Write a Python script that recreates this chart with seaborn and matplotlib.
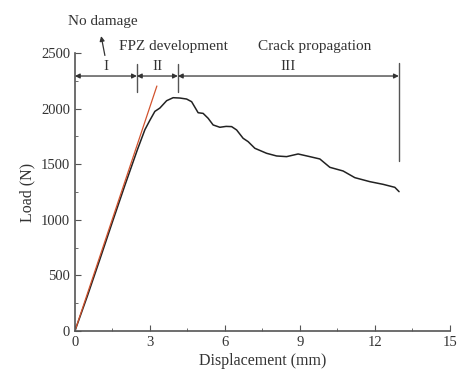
import numpy as np
import pandas as pd
import matplotlib
matplotlib.use('Agg')
import matplotlib.pyplot as plt
from matplotlib.ticker import MultipleLocator
import seaborn as sns

# load-displacement curve
disp = [0, 0.5, 1.0, 1.5, 2.0, 2.5, 2.8, 3.0, 3.2, 3.4, 3.67, 3.93, 4.2, 4.47, 4.67,
        4.93, 5.13, 5.33, 5.53, 5.8, 6.05, 6.27, 6.47, 6.73, 6.93, 7.2, 7.67, 8.07,
        8.47, 8.93, 9.4, 9.8, 10.2, 10.73, 11.2, 11.8, 12.33, 12.8, 12.97]
load = [0, 315, 645, 980, 1310, 1630, 1810, 1895, 1975, 2005, 2071, 2098, 2095, 2086, 2062,
        1963, 1957, 1913, 1853, 1832, 1840, 1838, 1808, 1733, 1703, 1643, 1598, 1574,
        1568, 1592, 1568, 1547, 1472, 1439, 1379, 1343, 1319, 1292, 1253]

# initial stiffness line
fit_x = [0, 3.28]
fit_y = [0, 2203]

# stage boundaries
bounds = [0, 2.48, 4.12, 12.96]
stage_labels = ['I', 'II', 'III']
arrow_y = 2293

sns.set_style('ticks')
plt.rcParams['font.family'] = ['Liberation Serif', 'DejaVu Serif']

fig = plt.figure(figsize=(4.74, 3.92), dpi=100)
ax = fig.add_axes([0.158, 0.1556, 0.791, 0.7092])

curve = pd.DataFrame({'disp': disp, 'load': load})
fit = pd.DataFrame({'x': fit_x, 'y': fit_y})
sns.lineplot(data=curve, x='disp', y='load', color='#222222', lw=1.1, sort=False, ax=ax)
sns.lineplot(data=fit, x='x', y='y', color='#d2532e', lw=0.9, sort=False, ax=ax)

ax.set_xlim(0, 15)
ax.set_ylim(0, 2500)
ax.xaxis.set_major_locator(MultipleLocator(3))
ax.xaxis.set_minor_locator(MultipleLocator(1.5))
ax.yaxis.set_major_locator(MultipleLocator(500))
ax.yaxis.set_minor_locator(MultipleLocator(250))
ax.tick_params(which='both', direction='in', colors='#555555', labelcolor='#333333', labelsize=10.5)
ax.tick_params(which='major', length=4)
ax.tick_params(which='minor', length=2.5)
for s in ['top', 'right']:
    ax.spines[s].set_visible(False)
for s in ['left', 'bottom']:
    ax.spines[s].set_color('#555555')
    ax.spines[s].set_linewidth(1.2)

ax.set_xlabel('Displacement (mm)', fontsize=11.5, color='#333333', labelpad=3)
ax.set_ylabel('Load (N)', fontsize=11.5, color='#333333', labelpad=4)

# stage arrows and dividers
for a, b, lab in zip(bounds[:-1], bounds[1:], stage_labels):
    ax.annotate('', xy=(a, arrow_y), xytext=(b, arrow_y), xycoords='data',
                arrowprops=dict(arrowstyle='<|-|>', color='#333333', lw=0.9,
                                mutation_scale=7, shrinkA=0, shrinkB=0),
                annotation_clip=False)
    ax.text((a + b) / 2, arrow_y + 30, lab, ha='center', va='bottom', fontsize=11, color='#333333')
for xb, top, bot in [(2.48, 2400, 2150), (4.12, 2400, 2150), (12.96, 2410, 1530)]:
    ax.plot([xb, xb], [bot, top], color='#555555', lw=1.0, clip_on=False)

ax.annotate('', xy=(1.05, 2652), xytext=(1.2, 2478), xycoords='data',
            arrowprops=dict(arrowstyle='-|>', color='#333333', lw=0.9, mutation_scale=7,
                            shrinkA=0, shrinkB=0), annotation_clip=False)
ax.text(1.1, 2780, 'No damage', ha='center', va='center', fontsize=11, color='#333333')
ax.text(3.95, 2560, 'FPZ development', ha='center', va='center', fontsize=11, color='#333333')
ax.text(9.6, 2560, 'Crack propagation', ha='center', va='center', fontsize=11, color='#333333')

fig.savefig('out.png', dpi=100)
